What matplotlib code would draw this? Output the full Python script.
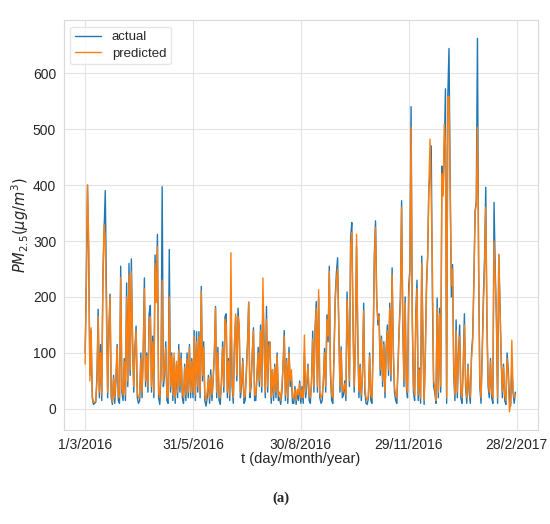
import numpy as np
import pandas as pd
import matplotlib
matplotlib.use("Agg")
import matplotlib.pyplot as plt
import seaborn as sns

# daily PM2.5 values, 1/3/2016 onwards
actual = [
    100, 225, 400, 270, 60, 140, 20, 8, 10, 12,
    60, 178, 20, 115, 15, 240, 320, 390, 200, 20,
    140, 205, 20, 8, 60, 10, 50, 115, 15, 10,
    255, 30, 15, 90, 15, 225, 40, 260, 60, 268,
    120, 30, 110, 148, 20, 10, 15, 100, 20, 100,
    234, 40, 100, 30, 170, 185, 30, 130, 20, 275,
    200, 312, 20, 8, 60, 397, 40, 60, 120, 15,
    10, 285, 30, 100, 15, 90, 10, 80, 20, 115,
    30, 100, 20, 10, 80, 15, 100, 20, 115, 20,
    90, 20, 140, 15, 138, 30, 138, 20, 219, 50,
    120, 15, 5, 20, 60, 10, 70, 15, 50, 100,
    183, 20, 110, 15, 8, 50, 120, 30, 165, 170,
    20, 90, 15, 180, 40, 10, 120, 165, 50, 180,
    140, 20, 40, 90, 10, 15, 70, 120, 191, 20,
    40, 100, 145, 15, 15, 60, 110, 40, 150, 30,
    200, 120, 20, 183, 30, 120, 115, 10, 70, 15,
    80, 20, 100, 15, 20, 8, 30, 80, 140, 15,
    90, 10, 110, 40, 60, 10, 10, 40, 8, 30,
    15, 50, 10, 40, 10, 100, 20, 40, 80, 15,
    10, 50, 139, 30, 144, 192, 30, 200, 20, 10,
    15, 50, 108, 30, 168, 120, 255, 60, 15, 10,
    100, 200, 243, 270, 150, 30, 111, 20, 25, 50,
    15, 209, 120, 40, 306, 333, 160, 30, 120, 290,
    130, 20, 80, 15, 60, 189, 30, 10, 8, 20,
    100, 15, 10, 120, 276, 336, 200, 150, 170, 60,
    130, 40, 120, 20, 110, 150, 60, 189, 50, 252,
    100, 30, 15, 10, 80, 150, 200, 372, 150, 40,
    200, 40, 20, 220, 250, 540, 160, 30, 15, 174,
    230, 15, 73, 10, 273, 120, 8, 100, 225, 275,
    396, 420, 470, 200, 40, 30, 10, 198, 20, 180,
    30, 434, 383, 458, 572, 10, 560, 644, 402, 200,
    258, 60, 15, 159, 20, 100, 150, 20, 10, 80,
    170, 40, 10, 80, 30, 10, 100, 130, 230, 354,
    370, 662, 250, 40, 10, 100, 201, 270, 396, 150,
    40, 20, 90, 20, 10, 369, 250, 160, 10, 276,
    190, 90, 20, 80, 15, 8, 100, 70, 20, 5,
    80, 30, 10, 30,
]

predicted = [
    80, 230, 400, 300, 50, 145, 25, 12, 12, 15,
    50, 165, 30, 100, 25, 230, 330, 300, 170, 30,
    130, 200, 30, 12, 55, 20, 60, 110, 25, 20,
    235, 40, 25, 85, 25, 200, 50, 240, 70, 245,
    130, 40, 100, 140, 30, 20, 20, 90, 30, 95,
    215, 50, 95, 40, 150, 165, 40, 120, 30, 260,
    190, 290, 30, 20, 70, 230, 50, 70, 110, 25,
    20, 200, 40, 95, 25, 100, 20, 85, 30, 105,
    40, 90, 30, 20, 75, 25, 90, 30, 110, 30,
    85, 30, 130, 25, 120, 40, 130, 30, 210, 60,
    110, 25, 15, 30, 55, 20, 60, 25, 55, 95,
    180, 30, 100, 25, 20, 45, 110, 40, 160, 150,
    30, 85, 25, 279, 50, 20, 110, 170, 60, 165,
    150, 30, 50, 85, 20, 25, 60, 110, 190, 30,
    50, 95, 140, 25, 25, 60, 100, 50, 140, 40,
    234, 110, 30, 160, 40, 110, 120, 20, 70, 25,
    75, 30, 95, 25, 30, 15, 40, 75, 130, 25,
    85, 20, 100, 50, 70, 20, 20, 35, 15, 35,
    25, 45, 20, 35, 20, 132, 30, 50, 75, 25,
    20, 45, 125, 40, 135, 180, 40, 213, 30, 20,
    25, 50, 100, 40, 160, 130, 246, 70, 25, 20,
    95, 190, 230, 250, 140, 40, 105, 30, 35, 45,
    25, 195, 130, 50, 290, 315, 150, 40, 110, 312,
    140, 30, 75, 25, 60, 175, 40, 20, 15, 25,
    95, 25, 20, 110, 260, 324, 190, 160, 165, 70,
    125, 50, 115, 30, 100, 140, 70, 180, 60, 240,
    110, 40, 25, 20, 75, 140, 190, 360, 160, 50,
    190, 50, 30, 200, 240, 503, 170, 40, 25, 160,
    215, 25, 70, 20, 260, 140, 15, 90, 210, 270,
    396, 482, 380, 250, 50, 40, 15, 180, 30, 170,
    40, 420, 380, 509, 470, 20, 558, 558, 390, 220,
    250, 70, 25, 140, 30, 95, 130, 30, 20, 75,
    150, 50, 20, 75, 40, 20, 90, 120, 225, 350,
    365, 503, 260, 50, 20, 95, 180, 250, 360, 160,
    50, 30, 85, 30, 20, 300, 230, 170, 20, 276,
    180, 95, 30, 75, 25, 15, 90, 60, -5, 10,
    123, 35, 20, 25,
]

dates = pd.date_range("2016-03-01", periods=len(actual), freq="D")
tick_dates = pd.to_datetime(["2016-03-01", "2016-05-31", "2016-08-30",
                             "2016-11-29", "2017-02-28"])
tick_labels = ["1/3/2016", "31/5/2016", "30/8/2016", "29/11/2016", "28/2/2017"]

sns.set_style("whitegrid")
plt.rcParams["font.family"] = ["Liberation Sans", "DejaVu Sans"]

fig = plt.figure(figsize=(5.5, 5.24), dpi=100)
ax = fig.add_axes([0.116, 0.179, 0.862, 0.783])

ax.plot(dates, actual, color="#1f77b4", lw=1.0, label="actual")
ax.plot(dates, predicted, color="#ff7f0e", lw=1.0, label="predicted")

ax.set_xticks(tick_dates)
ax.set_xticklabels(tick_labels)
ax.set_xlim(dates[0] - pd.Timedelta(days=18), dates[-1] + pd.Timedelta(days=19))
ax.set_ylim(-38, 695)
ax.set_yticks([0, 100, 200, 300, 400, 500, 600])
ax.tick_params(labelsize=10, colors="#262626", pad=2)

for s in ax.spines.values():
    s.set_color("#d9d9d9")
ax.grid(color="#e3e3e3", lw=0.8)

ax.set_xlabel("t (day/month/year)", fontsize=10.5, color="#262626", labelpad=0)
ax.set_ylabel(r"$PM_{2.5}(\mu g/m^3)$", fontsize=10.5, color="#262626", labelpad=1)

leg = ax.legend(loc="upper left", fontsize=9.5, frameon=True,
                borderpad=0.35, labelspacing=0.3)
leg.get_frame().set_edgecolor("#e0e0e0")

fig.text(0.51, 0.05, "(a)", ha="center", va="center",
         fontsize=10.5, family="Liberation Serif", fontweight="bold")

fig.savefig("out.png", dpi=100)
